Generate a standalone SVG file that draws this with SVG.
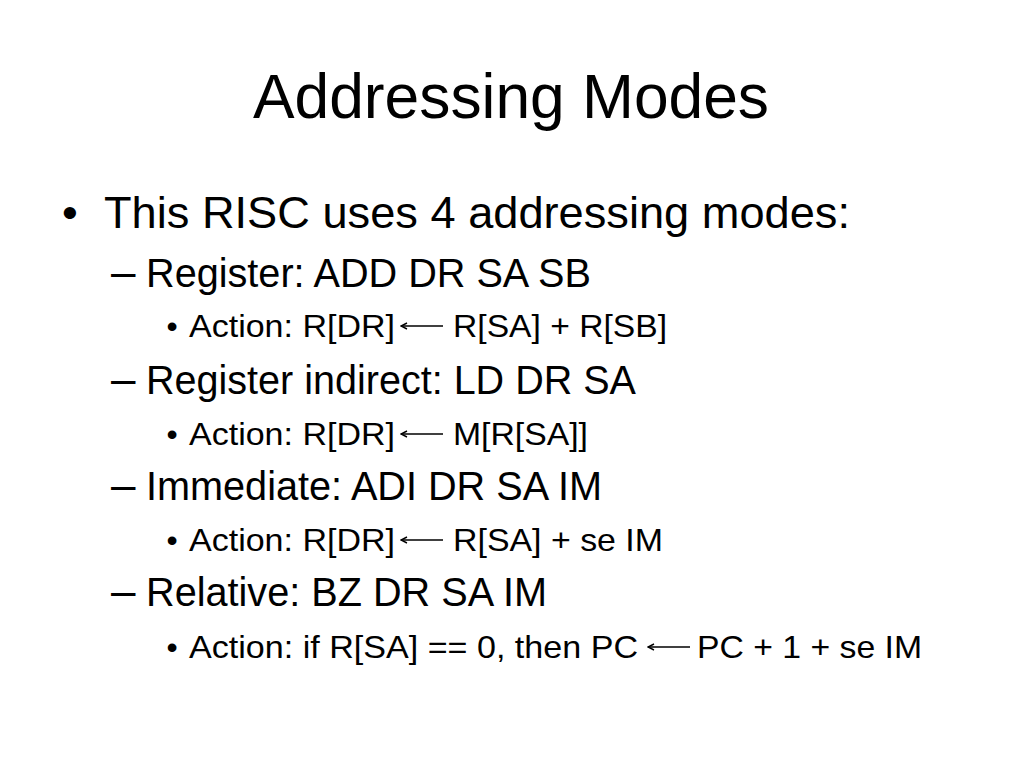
<svg xmlns="http://www.w3.org/2000/svg" width="1024" height="768" viewBox="0 0 1024 768">
<style>
text{font-family:"Liberation Sans",Arial,sans-serif;fill:#000}
.t{font-size:63px}
.l1{font-size:45px}
.l2{font-size:40px}
.l3{font-size:32px}
.d{font-size:44px}
.arr{fill:none;stroke:#000;stroke-width:1.6}
</style>
<defs>
<marker id="ah" markerWidth="10" markerHeight="10" refX="1" refY="5" orient="auto" markerUnits="userSpaceOnUse">
<path d="M7,2 L1,5 L7,8" fill="none" stroke="#000" stroke-width="1.4"/>
</marker>
</defs>
<rect width="1024" height="768" fill="#fff"/>
<g id="title"><text class="t" x="253" y="118" textLength="516" lengthAdjust="spacingAndGlyphs">Addressing Modes</text></g>
<g id="intro"><text class="l1" x="70" y="228" text-anchor="middle">•</text><text class="l1" x="104" y="228" textLength="746" lengthAdjust="spacingAndGlyphs">This RISC uses 4 addressing modes:</text></g>
<g id="mode-register">
<text class="d" x="111" y="287">–</text>
<text class="l2" x="146" y="287" textLength="445" lengthAdjust="spacingAndGlyphs">Register: ADD DR SA SB</text>
</g>
<g id="action-register">
<text class="l3" x="172" y="337" text-anchor="middle">•</text>
<text class="l3" x="189" y="337" textLength="206" lengthAdjust="spacingAndGlyphs">Action: R[DR]</text>
<text class="l3" x="453" y="337" textLength="214" lengthAdjust="spacingAndGlyphs">R[SA] + R[SB]</text>
</g>
<g id="mode-indirect">
<text class="d" x="111" y="394">–</text>
<text class="l2" x="146" y="394" textLength="490" lengthAdjust="spacingAndGlyphs">Register indirect: LD DR SA</text>
</g>
<g id="action-indirect">
<text class="l3" x="172" y="445" text-anchor="middle">•</text>
<text class="l3" x="189" y="445" textLength="206" lengthAdjust="spacingAndGlyphs">Action: R[DR]</text>
<text class="l3" x="453" y="445" textLength="135" lengthAdjust="spacingAndGlyphs">M[R[SA]]</text>
</g>
<g id="mode-immediate">
<text class="d" x="111" y="500">–</text>
<text class="l2" x="146" y="500" textLength="456" lengthAdjust="spacingAndGlyphs">Immediate: ADI DR SA IM</text>
</g>
<g id="action-immediate">
<text class="l3" x="172" y="551" text-anchor="middle">•</text>
<text class="l3" x="189" y="551" textLength="206" lengthAdjust="spacingAndGlyphs">Action: R[DR]</text>
<text class="l3" x="453" y="551" textLength="210" lengthAdjust="spacingAndGlyphs">R[SA] + se IM</text>
</g>
<g id="mode-relative">
<text class="d" x="111" y="606">–</text>
<text class="l2" x="146" y="606" textLength="401" lengthAdjust="spacingAndGlyphs">Relative: BZ DR SA IM</text>
</g>
<g id="action-relative">
<text class="l3" x="172" y="658" text-anchor="middle">•</text>
<text class="l3" x="189" y="658" textLength="449" lengthAdjust="spacingAndGlyphs">Action: if R[SA] == 0, then PC</text>
<text class="l3" x="697" y="658" textLength="225" lengthAdjust="spacingAndGlyphs">PC + 1 + se IM</text>
</g>
<g id="connectors">
<path class="arr" d="M401,326 H443" marker-start="url(#ah)"/>
<path class="arr" d="M401,434 H443" marker-start="url(#ah)"/>
<path class="arr" d="M401,540 H443" marker-start="url(#ah)"/>
<path class="arr" d="M648,647 H690" marker-start="url(#ah)"/>
</g>
</svg>
